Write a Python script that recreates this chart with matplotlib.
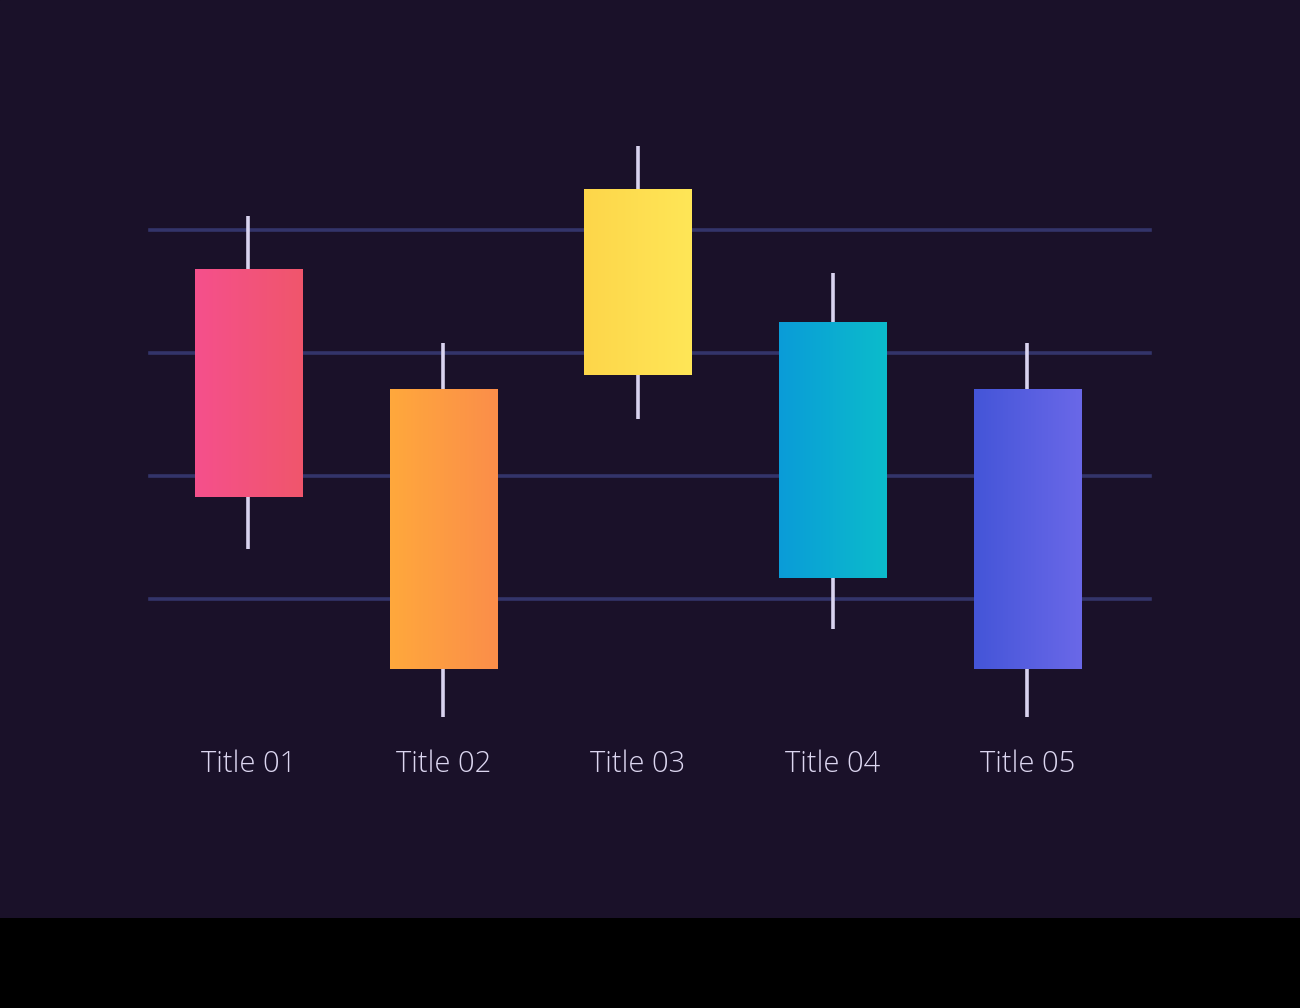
import matplotlib
matplotlib.use("Agg")
import matplotlib.pyplot as plt
import numpy as np

titles = ["Title 01", "Title 02", "Title 03", "Title 04", "Title 05"]
opens = [3.68, 2.70, 4.33, 3.25, 2.70]
closes = [1.83, 0.43, 2.82, 1.17, 0.43]
highs = [4.11, 3.08, 4.68, 3.65, 3.08]
lows = [1.41, 0.04, 2.46, 0.76, 0.04]
grid_levels = [1, 2, 3, 4]

left_colors = ["#f5508c", "#ffa83c", "#fdd64a", "#0a9cd8", "#4455d8"]
right_colors = ["#f0566c", "#fb8e4a", "#ffe657", "#0cbccb", "#6a68e8"]

BG = "#1a1129"
W = 0.55

fig = plt.figure(figsize=(13, 10.08), dpi=100)
fig.patch.set_facecolor("black")
ax = fig.add_axes([0, 90 / 1008, 1, 918 / 1008])
ax.set_facecolor(BG)
ax.axis("off")
ax.add_patch(plt.Rectangle((0, 0), 1, 1, transform=ax.transAxes,
                           color=BG, zorder=0))

for lv in grid_levels:
    ax.axhline(lv, xmin=0.1154, xmax=0.8846, color="#33346a", lw=2.6,
               zorder=1)


def hex2rgb(h):
    return np.array([int(h[i:i + 2], 16) / 255 for i in (1, 3, 5)])


for i in range(len(titles)):
    top = max(opens[i], closes[i])
    bot = min(opens[i], closes[i])
    ax.vlines(i, lows[i], highs[i], color="#d9d3ef", lw=2.6, zorder=2)
    c1, c2 = hex2rgb(left_colors[i]), hex2rgb(right_colors[i])
    t = np.linspace(0, 1, 100)[None, :, None]
    grad = c1[None, None, :] * (1 - t) + c2[None, None, :] * t
    ax.imshow(grad, extent=(i - W / 2, i + W / 2, bot, top), aspect="auto",
              zorder=3, interpolation="bilinear")
    ax.text(i, -0.345, titles[i], ha="center", va="center", fontsize=21,
            family="Open Sans", weight="light", color="#dcd6f0", zorder=4)

ax.set_xlim(-1.276, 5.40)
ax.set_ylim(-1.593, 5.870)

fig.savefig("out.png", dpi=100, facecolor=fig.get_facecolor())
